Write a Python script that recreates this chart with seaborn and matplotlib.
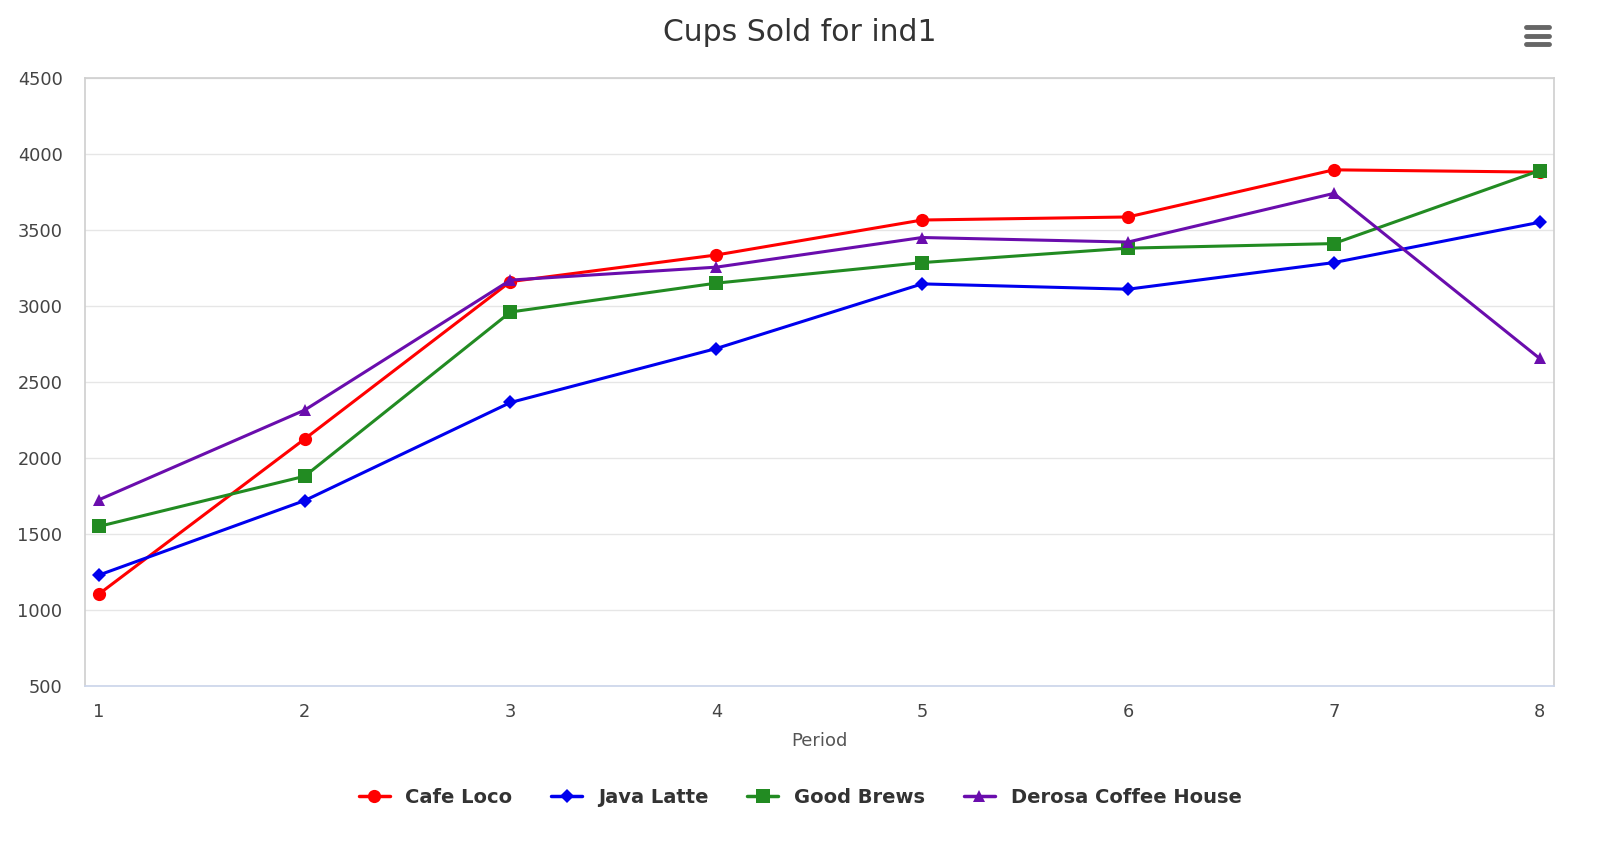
import pandas as pd
import seaborn as sns
import matplotlib.pyplot as plt
from matplotlib.lines import Line2D

# values
periods = [1, 2, 3, 4, 5, 6, 7, 8]
cafe_loco = [1105, 2125, 3160, 3335, 3565, 3585, 3895, 3880]
java_latte = [1230, 1720, 2365, 2720, 3145, 3110, 3285, 3550]
good_brews = [1550, 1880, 2960, 3150, 3285, 3380, 3410, 3890]
derosa = [1725, 2315, 3170, 3255, 3450, 3420, 3740, 2655]

names = ["Cafe Loco", "Java Latte", "Good Brews", "Derosa Coffee House"]
colors = ["#ff0000", "#0000ee", "#228b22", "#6a0dad"]
markers = ["o", "D", "s", "^"]
sizes = [9.5, 7.5, 9.5, 9]

df = pd.DataFrame({"Period": periods * 4,
                   "Cups": cafe_loco + java_latte + good_brews + derosa,
                   "Shop": sum([[n] * len(periods) for n in names], [])})

sns.set_theme(style="white")
plt.rcParams['font.family'] = ['DejaVu Sans']

fig = plt.figure(figsize=(16, 8.46), dpi=100)
ax = fig.add_axes([0.053, 0.189, 0.918, 0.719])

for name, c, m, s in zip(names, colors, markers, sizes):
    sns.lineplot(data=df[df["Shop"] == name], x="Period", y="Cups", ax=ax,
                 color=c, marker=m, markersize=s, markeredgewidth=0,
                 linewidth=2.2, label=name, legend=False)

ax.set_xlim(0.932, 8.068)
ax.set_ylim(500, 4500)
ax.set_xticks(periods)
ax.set_yticks(range(500, 4501, 500))
ax.tick_params(axis="both", labelsize=12.8, colors="#444444", length=0)
ax.tick_params(axis="y", pad=16)
ax.tick_params(axis="x", length=6, color="#ccd6eb", direction="out", pad=6)
ax.yaxis.grid(True, color="#e6e6e6", linewidth=1)
for side in ["left", "right", "top"]:
    ax.spines[side].set_color("#d0d0d0")
ax.spines["bottom"].set_color("#ccd6eb")
ax.set_xlabel("Period", fontsize=13, color="#555555", labelpad=8)
ax.set_ylabel("")

fig.suptitle("Cups Sold for ind1", fontsize=21.5, color="#333333", y=0.979)

handles = [Line2D([0], [0], color=c, marker=m, markersize=s, markeredgewidth=0,
                  linewidth=2.5) for c, m, s in zip(colors, markers, sizes)]
leg = fig.legend(handles, names, loc="lower center", ncol=4, frameon=False,
                 bbox_to_anchor=(0.5, 0.026), handlelength=1.6, columnspacing=2.0,
                 prop={"weight": "bold", "size": 14})
for t in leg.get_texts():
    t.set_color("#333333")

# menu icon top right
for yy in [0.968, 0.958, 0.948]:
    fig.add_artist(Line2D([0.954, 0.968], [yy, yy], color="#666666",
                          linewidth=3.5, solid_capstyle="round"))

fig.savefig("out.png", dpi=100)
